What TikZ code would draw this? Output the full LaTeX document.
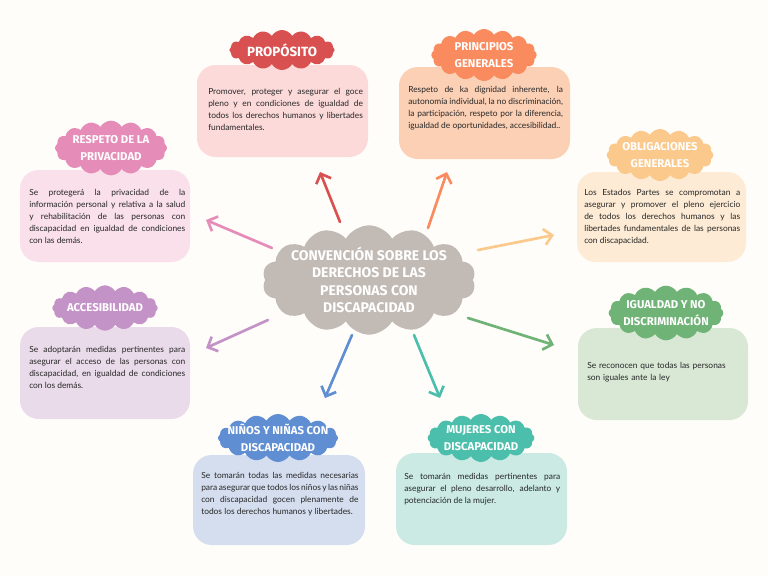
\documentclass[tikz,border=0pt]{standalone}
\usepackage{fontspec}
\setmainfont{Lato}
\newfontfamily\hdfont{Fira Sans}
\hyphenpenalty=10000
\exhyphenpenalty=10000
\usetikzlibrary{shapes.symbols,arrows.meta}
\definecolor{bg}{HTML}{FFFDF9}
\definecolor{cR}{HTML}{D95050}\definecolor{bR}{HTML}{FDDADA}
\definecolor{cO}{HTML}{F98B5F}\definecolor{bO}{HTML}{FCD0B5}
\definecolor{cP}{HTML}{E58DB8}\definecolor{bP}{HTML}{F9E0EA}
\definecolor{cY}{HTML}{FBC98B}\definecolor{bY}{HTML}{FDEBD5}
\definecolor{cV}{HTML}{C393C7}\definecolor{bV}{HTML}{EADBEA}
\definecolor{cG}{HTML}{6FB376}\definecolor{bG}{HTML}{D8E8D5}
\definecolor{cB}{HTML}{5F8ED3}\definecolor{bB}{HTML}{D4DEEF}
\definecolor{cT}{HTML}{4BBFAB}\definecolor{bT}{HTML}{CAEAE3}
\definecolor{cC}{HTML}{C2BAB4}
\tikzset{
 btext/.style={text width=#1, align=justify, font=\fontsize{6.3}{9}\selectfont, text=black!85, inner sep=0pt},
 hd/.style={shape=cloud, cloud puffs=16, cloud puff arc=120, fill=#1, draw=none, inner sep=0pt},
 hdt/.style={text=white, align=center, font=\hdfont\bfseries\fontsize{8.5}{12.5}\selectfont, inner sep=0pt},
 arr/.style={draw=#1, line width=2pt, -{Straight Barb[length=6pt,width=12pt,line width=2pt]}, line cap=round}
}
\begin{document}
\begin{tikzpicture}[x=0.75pt,y=-0.75pt]
\fill[bg] (0,0) rectangle (768,576);
\useasboundingbox (0,0) rectangle (768,576);
% bodies
\fill[bR,rounded corners=14pt] (197,65) rectangle (368,157);
\fill[bO,rounded corners=14pt] (399,67) rectangle (570,159);
\fill[bP,rounded corners=14pt] (20,170) rectangle (190,262);
\fill[bY,rounded corners=14pt] (577,172) rectangle (746,262);
\fill[bV,rounded corners=14pt] (20,327) rectangle (190,419);
\fill[bG,rounded corners=14pt] (578,328) rectangle (748,420);
\fill[bB,rounded corners=14pt] (193,455) rectangle (365,545);
\fill[bT,rounded corners=14pt] (396,453) rectangle (567,545);
% texts
\node[btext=116pt,anchor=north west] (tR) at (208,88) {Promover, proteger y asegurar el goce pleno y en condiciones de igualdad de todos los derechos humanos y libertades fundamentales.};
\node[btext=116pt,anchor=north west] (tO) at (408,86) {Respeto de ka dignidad inherente, la autonomía individual, la no discriminación, la participación, respeto por la diferencia, igualdad de oportunidades, accesibilidad..};
\node[btext=117pt,anchor=north west] (tP) at (29,189) {Se protegerá la privacidad de la información personal y relativa a la salud y rehabilitación de las personas con discapacidad en igualdad de condiciones con las demás.};
\node[btext=117pt,anchor=north west] (tY) at (584,189) {Los Estados Partes se compromotan a asegurar y promover el pleno ejercicio de todos los derechos humanos y las libertades fundamentales de las personas con discapacidad.};
\node[btext=117pt,anchor=north west] (tV) at (29,346) {Se adoptarán medidas pertinentes para asegurar el acceso de las personas con discapacidad, en igualdad de condiciones con los demás.};
\node[btext=112pt,anchor=north west,align=left] (tG) at (587,362) {Se reconocen que todas las personas\\son iguales ante la ley};
\node[btext=118pt,anchor=north west] (tB) at (201,472) {Se tomarán todas las medidas necesarias para asegurar que todos los niños y las niñas con discapacidad gocen plenamente de todos los derechos humanos y libertades.};
\node[btext=117pt,anchor=north west] (tT) at (404,473) {Se tomarán medidas pertinentes para asegurar el pleno desarrollo, adelanto y potenciación de la mujer.};
% headers
\node[hd=cR,minimum width=79pt,minimum height=30pt] (hR) at (282,50) {};
\node[hdt,font=\hdfont\bfseries\fontsize{10}{12}\selectfont] at (hR) {PROPÓSITO};
\node[hd=cO,minimum width=79pt,minimum height=39pt] (hO) at (484,55) {};
\node[hdt] at (hO) {PRINCIPIOS\\GENERALES};
\node[hd=cP,minimum width=84pt,minimum height=41pt] (hP) at (111,148) {};
\node[hdt] at (hP) {RESPETO DE LA\\PRIVACIDAD};
\node[hd=cY,minimum width=80pt,minimum height=39pt] (hY) at (660,155) {};
\node[hdt] at (hY) {OBLIGACIONES\\GENERALES};
\node[hd=cV,minimum width=79pt,minimum height=34pt] (hV) at (105,308) {};
\node[hdt] at (hV) {ACCESIBILIDAD};
\node[hd=cG,minimum width=86pt,minimum height=41pt] (hG) at (666,313) {};
\node[hdt] at (hG) {IGUALDAD Y NO\\DISCRIMINACIÓN};
\node[hd=cB,minimum width=90pt,minimum height=36pt] (hB) at (278,438) {};
\node[hdt] at (hB) {NIÑOS Y NIÑAS CON\\DISCAPACIDAD};
\node[hd=cT,minimum width=80pt,minimum height=36pt] (hT) at (481,438) {};
\node[hdt] at (hT) {MUJERES CON\\DISCAPACIDAD};
\node[hd=cC,cloud puffs=14,minimum width=160pt,minimum height=82pt] (c) at (369,280) {};
\node[hdt,font=\hdfont\bfseries\fontsize{10.5}{13}\selectfont] at (c) {CONVENCIÓN SOBRE LOS\\DERECHOS DE LAS\\PERSONAS CON\\DISCAPACIDAD};
% arrows
\coordinate (aR) at (320,172); \coordinate (aO) at (447,172);
\coordinate (aP) at (206,220); \coordinate (aY) at (554,235);
\coordinate (aV) at (206,348); \coordinate (aG) at (554,345);
\coordinate (aB) at (325,398); \coordinate (aT) at (440,398);
\coordinate (sR) at (340,222); \coordinate (sO) at (428,228);
\coordinate (sP) at (272,248); \coordinate (sY) at (478,250);
\coordinate (sV) at (268,320); \coordinate (sG) at (468,318);
\coordinate (sB) at (352,335); \coordinate (sT) at (414,335);
\draw[arr=cR] (sR) -- (aR);
\draw[arr=cO] (sO) -- (aO);
\draw[arr=cP] (sP) -- (aP);
\draw[arr=cY] (sY) -- (aY);
\draw[arr=cV] (sV) -- (aV);
\draw[arr=cG] (sG) -- (aG);
\draw[arr=cB] (sB) -- (aB);
\draw[arr=cT] (sT) -- (aT);
\end{tikzpicture}
\end{document}
